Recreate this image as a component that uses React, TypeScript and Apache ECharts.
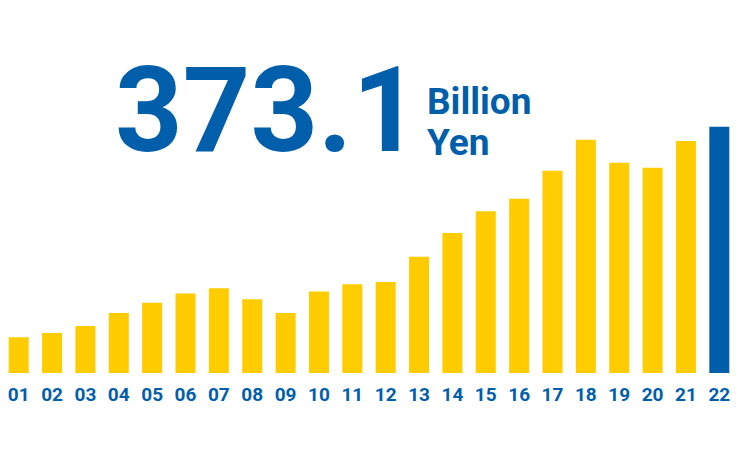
import React, { useEffect, useRef } from "react";
import * as echarts from "echarts";

const categories = ["01","02","03","04","05","06","07","08","09","10","11","12","13","14","15","16","17","18","19","20","21","22"];
const values = [54.1, 60.7, 71.3, 91.0, 106.6, 120.3, 128.4, 111.8, 91.0, 123.3, 134.5, 138.0, 176.0, 212.3, 245.2, 263.9, 306.4, 353.4, 318.5, 310.9, 351.4, 373.1];
const headline = "373.1";
const unitLines = ["Billion", "Yen"];

const BLUE = "#005eab";
const YELLOW = "#ffcc00";

export default function App() {
  const ref = useRef<HTMLDivElement>(null);
  useEffect(() => {
    if (!ref.current) return;
    const chart = echarts.init(ref.current, undefined, { renderer: "svg" });
    const last = values.length - 1;
    chart.setOption({
      animation: false,
      grid: { left: 2, right: 4, top: 109, bottom: 95 },
      xAxis: {
        type: "category",
        data: categories,
        axisLine: { show: false },
        axisTick: { show: false },
        axisLabel: {
          color: BLUE,
          fontFamily: "Roboto",
          fontWeight: "bold",
          fontSize: 19,
          margin: 12,
          interval: 0,
        },
      },
      yAxis: { type: "value", min: 0, max: 400, show: false, splitLine: { show: false } },
      series: [
        {
          type: "bar",
          barWidth: 20,
          data: values.map((v, i) => ({
            value: v,
            itemStyle: { color: i === last ? BLUE : YELLOW },
          })),
        },
      ],
      graphic: [
        {
          type: "text",
          left: 115,
          top: 52,
          style: {
            text: headline,
            fill: BLUE,
            fontFamily: "Roboto",
            fontWeight: "bold",
            fontSize: 118,
          },
        },
        {
          type: "text",
          left: 427,
          top: 83,
          style: {
            text: unitLines[0],
            fill: BLUE,
            fontFamily: "Roboto",
            fontWeight: "bold",
            fontSize: 37,
          },
        },
        {
          type: "text",
          left: 427,
          top: 124,
          style: {
            text: unitLines[1],
            fill: BLUE,
            fontFamily: "Roboto",
            fontWeight: "bold",
            fontSize: 37,
          },
        },
      ],
    });
    return () => chart.dispose();
  }, []);
  return <div ref={ref} style={{ position: "absolute", left: 0, top: 0, width: 740, height: 468 }} />;
}
